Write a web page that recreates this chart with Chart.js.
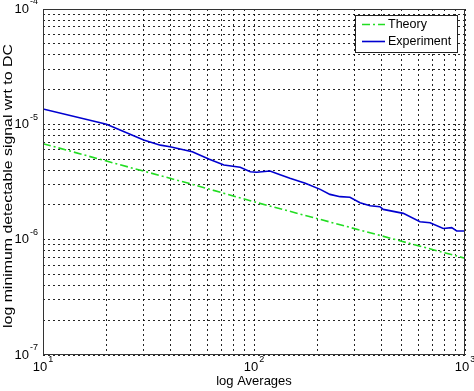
<!DOCTYPE html>
<html>
<head>
<meta charset="utf-8">
<script src="https://cdn.jsdelivr.net/npm/chart.js@4/dist/chart.umd.min.js"></script>
<style>
  html, body { margin: 0; padding: 0; background: #fff; }
  #wrap { width: 474px; height: 391px; }
</style>
</head>
<body>
<div id="wrap"><canvas id="chart" width="474" height="391"></canvas></div>
<script>
// --- data ---
const seriesNames = ['Theory', 'Experiment'];

const theoryAverages = [10, 20, 50, 100, 200, 500, 1000];
const theorySignal   = [6.8e-6, 4.8e-6, 3.05e-6, 2.13e-6, 1.52e-6, 9.7e-7, 6.9e-7];

const expAverages = [10, 20, 30, 36, 40, 51, 61, 72, 86, 96, 103, 119, 133, 148, 175,
                     206, 229, 256, 285, 318, 355, 395, 410, 510, 612, 683, 789, 865, 913, 1000];
const expSignal   = [1.36e-5, 1.0e-5, 7.3e-6, 6.6e-6, 6.4e-6, 5.78e-6, 5.0e-6, 4.44e-6, 4.24e-6, 3.88e-6,
                     3.84e-6, 3.94e-6, 3.66e-6, 3.4e-6, 3.08e-6, 2.73e-6, 2.47e-6, 2.36e-6, 2.33e-6, 2.09e-6,
                     1.97e-6, 1.93e-6, 1.83e-6, 1.69e-6, 1.43e-6, 1.4e-6, 1.25e-6, 1.27e-6, 1.19e-6, 1.19e-6];

const xTickExps = [1, 2, 3];
const yTickExps = [-7, -6, -5, -4];

const xTitle = 'log Averages';
const yTitle = 'log minimum detectable signal wrt to DC';

const FONT = '"Liberation Sans", Arial, Helvetica, sans-serif';
const GREEN = '#22dd22';
const BLUE = '#0000d0';
const GREEN_DASH = [8, 3, 2, 3];

// 1..9 x 10^e for every decade, used for the dotted grid
function decadeTicks(exps) {
  const out = [];
  for (let e = exps[0]; e < exps[exps.length - 1]; e++) {
    for (let s = 1; s < 10; s++) out.push({ value: s * Math.pow(10, e) });
  }
  out.push({ value: Math.pow(10, exps[exps.length - 1]) });
  return out;
}

function drawPow(ctx, exp, x, y, mode) {
  ctx.font = '13px ' + FONT;
  const bw = ctx.measureText('10').width;
  ctx.font = '9px ' + FONT;
  const ew = ctx.measureText(String(exp)).width;
  let left;
  if (mode === 'right') left = x - bw - ew - 1;
  else left = x - (bw + ew + 1) / 2;
  ctx.textAlign = 'left';
  ctx.textBaseline = 'middle';
  ctx.font = '13px ' + FONT;
  ctx.fillText('10', left, y);
  ctx.font = '9px ' + FONT;
  ctx.fillText(String(exp), left + bw + 1, y - 7);
}

const frame = {
  id: 'frame',
  afterDraw(chart) {
    const { ctx, chartArea: a, scales } = chart;
    ctx.save();
    ctx.setLineDash([]);
    ctx.strokeStyle = '#333';
    ctx.lineWidth = 1;
    ctx.strokeRect(Math.round(a.left) + 0.5, Math.round(a.top) + 0.5,
                   Math.round(a.right - a.left) - 1, Math.round(a.bottom - a.top) - 1);

    ctx.fillStyle = '#000';
    xTickExps.forEach(e => drawPow(ctx, e, scales.x.getPixelForValue(Math.pow(10, e)), a.bottom + 12, 'center'));
    yTickExps.forEach(e => drawPow(ctx, e, a.left - 5, scales.y.getPixelForValue(Math.pow(10, e)), 'right'));

    // axis titles
    ctx.font = '13px ' + FONT;
    ctx.textAlign = 'center';
    ctx.textBaseline = 'middle';
    ctx.fillText(xTitle, (a.left + a.right) / 2, 381);
    ctx.save();
    ctx.translate(8, (a.top + a.bottom) / 2 + 4);
    ctx.rotate(-Math.PI / 2);
    ctx.scale(1.22, 1);
    ctx.fillText(yTitle, 0, 0);
    ctx.restore();

    // legend box
    const lx = 355, ly = 15, lw = 102, lh = 37;
    ctx.fillStyle = '#fff';
    ctx.fillRect(lx, ly, lw, lh);
    ctx.strokeStyle = '#222';
    ctx.strokeRect(lx + 0.5, ly + 0.5, lw, lh);
    ctx.font = '12.5px ' + FONT;
    const rows = [{ c: GREEN, d: GREEN_DASH, y: 24.5 }, { c: BLUE, d: [], y: 41.5 }];
    rows.forEach((r, i) => {
      ctx.strokeStyle = r.c;
      ctx.lineWidth = 1.6;
      ctx.setLineDash(r.d);
      ctx.beginPath();
      ctx.moveTo(362, r.y);
      ctx.lineTo(385, r.y);
      ctx.stroke();
      ctx.fillStyle = '#000';
      ctx.textAlign = 'left';
      ctx.fillText(seriesNames[i], 388, r.y);
    });
    ctx.restore();
  }
};

const gridOpts = {
  color: 'rgba(0,0,0,0.85)',
  lineWidth: 1,
  drawTicks: false
};

new Chart(document.getElementById('chart'), {
  type: 'line',
  data: {
    datasets: [
      {
        label: seriesNames[0],
        data: theoryAverages.map((v, i) => ({ x: v, y: theorySignal[i] })),
        borderColor: GREEN,
        borderWidth: 1.6,
        borderDash: GREEN_DASH,
        pointRadius: 0,
        fill: false,
        tension: 0
      },
      {
        label: seriesNames[1],
        data: expAverages.map((v, i) => ({ x: v, y: expSignal[i] })),
        borderColor: BLUE,
        borderWidth: 1.6,
        pointRadius: 0,
        fill: false,
        tension: 0
      }
    ]
  },
  options: {
    responsive: false,
    animation: false,
    layout: { padding: { left: 43, right: 9, top: 9, bottom: 36 } },
    plugins: { legend: { display: false }, tooltip: { enabled: false } },
    scales: {
      x: {
        type: 'logarithmic',
        min: 10, max: 1000,
        afterBuildTicks: s => { s.ticks = decadeTicks(xTickExps); },
        ticks: { display: false },
        grid: gridOpts,
        border: { display: false, dash: [2, 3] }
      },
      y: {
        type: 'logarithmic',
        min: 1e-7, max: 1e-4,
        afterBuildTicks: s => { s.ticks = decadeTicks(yTickExps); },
        ticks: { display: false },
        grid: gridOpts,
        border: { display: false, dash: [2, 3] }
      }
    }
  },
  plugins: [frame]
});
</script>
</body>
</html>
